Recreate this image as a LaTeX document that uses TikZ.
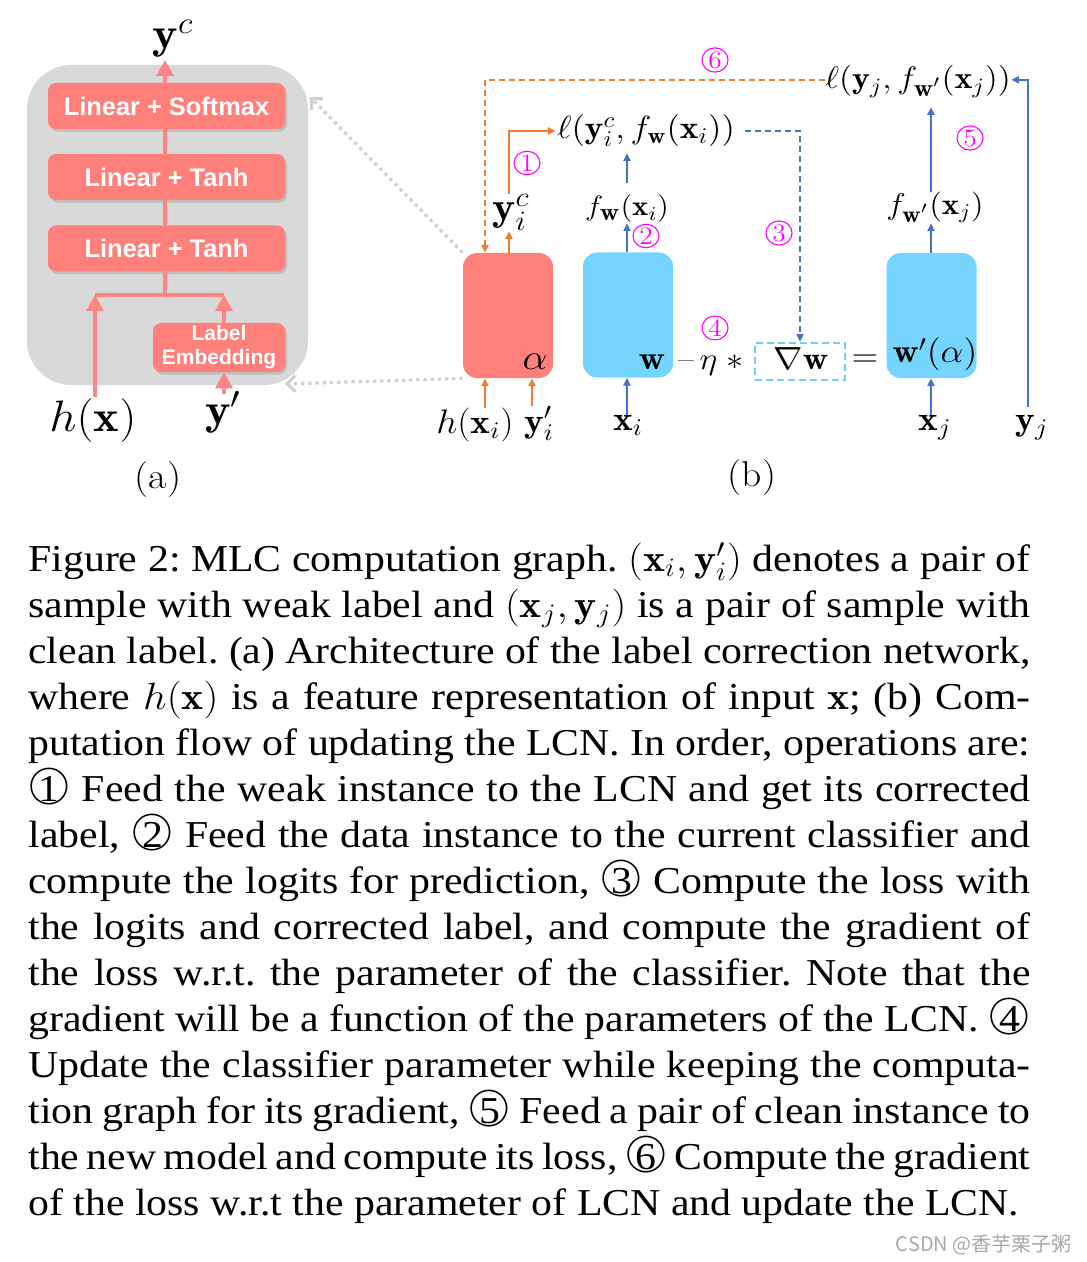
\documentclass[tikz,border=0pt]{standalone}
\usepackage{fix-cm}
\usepackage{fontspec}
\usepackage{graphicx}
\newfontfamily\capfont{Liberation Serif}
\newfontfamily\boxfont{Liberation Sans}
\newfontfamily\cjkfont{Noto Sans CJK SC}
\usetikzlibrary{arrows.meta,shadows,shapes.geometric}
\definecolor{salmon}{HTML}{FF7F7B}
\definecolor{lnred}{HTML}{FF8585}
\definecolor{bgray}{HTML}{D9D9D9}
\definecolor{skyb}{HTML}{76D5FF}
\definecolor{dashb}{HTML}{6CD0FF}
\definecolor{orng}{HTML}{ED7D31}
\definecolor{blu}{HTML}{4472C4}
\definecolor{mag}{HTML}{FF00FF}
\definecolor{dotg}{HTML}{D0D0D0}
\definecolor{wmgray}{HTML}{A8A8A8}
\newcommand\hs[1]{\scalebox{1.1}[1]{#1}}
\newcommand\cnum[1]{\ooalign{\hfil#1\hfil\crcr\raisebox{0.12em}{\resizebox*{1.0em}{0.93em}{$\bigcirc$}}}}
\newcommand\bigw{\scalebox{1.25}{$\scriptstyle\mathbf{w}$}}
\newcommand\bigwp{\scalebox{1.12}{$\scriptstyle\mathbf{w}'$}}
\tikzset{
  lab/.style={inner sep=0pt, anchor=base},
  abox/.style={fill=salmon, rounded corners=4pt, text=white,
    font=\boxfont\bfseries\fontsize{12.7}{14}\selectfont,
    drop shadow={opacity=0.3, shadow xshift=1pt, shadow yshift=-1.3pt},
    minimum width=118.5pt, minimum height=23pt, inner sep=0pt},
  rbox/.style={fill=salmon, rounded corners=7pt, minimum width=45pt,
    minimum height=62.5pt, inner sep=0pt},
  bbox/.style={rbox, fill=skyb},
  dbox/.style={draw=dashb, line width=1.3pt, dash pattern=on 3.5pt off 2pt,
    minimum width=45pt, minimum height=18.5pt, inner sep=0pt},
  oarr/.style={draw=orng, line width=0.85pt, -{Triangle[width=3.6pt,length=3.8pt]}},
  barr/.style={oarr, draw=blu},
  odash/.style={oarr, dash pattern=on 3pt off 2pt},
  bdash/.style={barr, dash pattern=on 3pt off 2pt},
  aline/.style={draw=lnred, line width=1.7pt},
  aarr/.style={aline, -{Triangle[width=8.5pt,length=8pt]}},
  gdot/.style={draw=dotg, line width=1.6pt, dotted, -{Straight Barb[length=4pt,width=8pt]}},
  mnum/.style={ellipse, draw=mag, line width=0.55pt, text=mag, inner sep=0pt,
    minimum width=13pt, minimum height=11.6pt, font=\fontsize{12.5}{14}\selectfont},
  capl/.style={anchor=base west, inner sep=0pt, font=\capfont\fontsize{19}{23}\selectfont\frenchspacing},
}
\begin{document}
\begin{tikzpicture}[x=0.5pt, y=-0.5pt]
\useasboundingbox (0,0) rectangle (1086,1262);

% ---------------- panel (a)
\node[fill=bgray, rounded corners=22pt, minimum width=140.5pt, minimum height=160pt, inner sep=0pt] (bg) at (167.5,225) {};
\node[abox] (sm) at (166.5,106) {Linear + Softmax};
\node[abox] (t1) at (166.5,177) {Linear + Tanh};
\node[abox] (t2) at (166.5,248.5) {Linear + Tanh};
\node[abox, minimum width=66pt, minimum height=24.5pt, align=center,
  font=\boxfont\bfseries\fontsize{10.5}{12}\selectfont] (le) at (219,347.5) {Label\\Embedding};

\node[lab, font=\fontsize{22}{26}\selectfont] (yc) at (173,49) {\hs{$\mathbf{y}^c$}};
\node[lab, font=\fontsize{22}{26}\selectfont] (hx) at (93,431) {\hs{$h(\mathbf{x})$}};
\node[lab, font=\fontsize{22}{26}\selectfont] (yp) at (223,424) {\hs{$\mathbf{y}'$}};
\node[lab, font=\fontsize{18}{22}\selectfont] (la) at (158,488) {\hs{(a)}};

\coordinate (jc) at (165,295);
\coordinate (jl) at (95,295);
\coordinate (jr) at (224,295);
\coordinate (hxtop) at (95,397);
\coordinate (yptop) at (224,394);
\coordinate (yctip) at (165,60);

\draw[aarr] (sm.north -| jc) -- (yctip);
\draw[aline] (sm.south -| jc) -- (t1.north -| jc);
\draw[aline] (t1.south -| jc) -- (t2.north -| jc);
\draw[aline] (t2.south -| jc) -- (jc);
\draw[aline] (jl) -- (jr);
\draw[aarr] (hxtop) -- (jl);
\draw[aarr] (le.north -| jr) -- (jr);
\draw[aarr] (yptop) -- (le.south -| jr);

% ---------------- panel (b)
\node[rbox] (R) at (508,315.5) {};
\node[bbox] (W) at (628,315) {};
\node[bbox] (Wp) at (931.5,315.5) {};
\node[dbox] (G) at (800,361.5) {};

\node[lab, font=\fontsize{18}{22}\selectfont] (al) at (535,370) {\hs{$\alpha$}};
\node[lab, font=\fontsize{16.5}{20}\selectfont] (w) at (652,370) {\hs{$\mathbf{w}$}};
\node[lab, font=\fontsize{15.5}{19}\selectfont] (eta) at (711,370) {\hs{--\,$\eta$\;$*$}};
\node[lab, font=\fontsize{16}{20}\selectfont] (gw) at (801,370) {\hs{$\nabla\mathbf{w}$}};
\node[lab, font=\fontsize{16}{20}\selectfont] (eq) at (865,366) {\hs{$=$}};
\node[lab, font=\fontsize{16.5}{20}\selectfont] (wpa) at (935,363) {\hs{$\mathbf{w}'(\alpha)$}};

\node[lab, font=\fontsize{17}{20}\selectfont] (hxi) at (475,433.5) {\hs{$h(\mathbf{x}_i)$}};
\node[lab, font=\fontsize{17}{20}\selectfont] (ypi) at (539,432) {\hs{$\mathbf{y}'_i$}};
\node[lab, font=\fontsize{17}{20}\selectfont] (xi) at (628,430) {\hs{$\mathbf{x}_i$}};
\node[lab, font=\fontsize{17}{20}\selectfont] (xj) at (935,430) {\hs{$\mathbf{x}_j$}};
\node[lab, font=\fontsize{17}{20}\selectfont] (yj) at (1032,430) {\hs{$\mathbf{y}_j$}};
\node[lab, font=\fontsize{20}{23}\selectfont] (yic) at (511,221) {\hs{$\mathbf{y}_i^c$}};
\node[lab, font=\fontsize{14}{17}\selectfont] (fwxi) at (627,216) {\hs{$f_{\bigw}(\mathbf{x}_i)$}};
\node[lab, font=\fontsize{15}{18}\selectfont] (fwpxj) at (935,214.5) {\hs{$f_{\bigwp}(\mathbf{x}_j)$}};
\node[lab, font=\fontsize{16}{19}\selectfont] (L1) at (646,139) {\hs{$\ell(\mathbf{y}_i^c, f_{\mathbf{w}}(\mathbf{x}_i))$}};
\node[lab, font=\fontsize{15.5}{18}\selectfont] (L2) at (918,89) {\hs{$\ell(\mathbf{y}_j, f_{\bigwp}(\mathbf{x}_j))$}};
\node[lab, font=\fontsize{18}{22}\selectfont] (lb) at (752,486) {\hs{(b)}};

\node[mnum] (c6) at (715,60) {\hs{6}};
\node[mnum] (c1) at (527,163) {\hs{1}};
\node[mnum] (c2) at (646,236) {\hs{2}};
\node[mnum] (c3) at (779,233) {\hs{3}};
\node[mnum] (c4) at (715,328) {\hs{4}};
\node[mnum] (c5) at (970,138) {\hs{5}};

\coordinate (xo1) at (485,0);
\coordinate (xo2) at (532,0);
\coordinate (xo3) at (509,0);
\coordinate (xb1) at (627,0);
\coordinate (xb2) at (931,0);
\coordinate (xyj) at (1028,0);

\draw[oarr] (hxi.north -| xo1) -- (R.south -| xo1);
\draw[oarr] (ypi.north -| xo2) -- (R.south -| xo2);
\draw[oarr] (R.north -| xo3) -- (yic.south -| xo3);
\draw[oarr, shorten >=0.5pt] (yic.north -| xo3) |- (L1.west);
\draw[barr] (xi.north -| xb1) -- (W.south -| xb1);
\draw[barr] (W.north -| xb1) -- (fwxi.south -| xb1);
\draw[barr, shorten <=6pt, shorten >=3pt] (fwxi.north -| xb1) -- (L1.south -| xb1);
\draw[bdash, shorten <=5pt] (L1.east) -| (G.north);
\draw[barr] (xj.north -| xb2) -- (Wp.south -| xb2);
\draw[barr] (Wp.north -| xb2) -- (fwpxj.south -| xb2);
\draw[barr, shorten >=4.5pt] (fwpxj.north -| xb2) -- (L2.south -| xb2);
\draw[barr, shorten <=4pt] (yj.north -| xyj) |- ([yshift=1pt]L2.east);
\draw[odash] ([yshift=1pt]L2.west) -| (R.north -| xo1);

\coordinate (ga1) at (310,97);
\coordinate (ga2) at (285,384);
\draw[gdot] (R.north west) -- (ga1);
\draw[gdot] (R.south west) -- (ga2);

% ---------------- caption
\node[capl] (l1) at (28,571) {\hs{\makebox[455.5pt][s]{Figure 2: MLC computation graph. $(\mathbf{x}_i, \mathbf{y}'_i)$ denotes a pair of}}};
\node[capl] (l2) at (28,617) {\hs{\makebox[455.5pt][s]{sample with weak label and $(\mathbf{x}_j, \mathbf{y}_j)$ is a pair of sample with}}};
\node[capl] (l3) at (28,663) {\hs{\makebox[455.5pt][s]{clean label. (a) Architecture of the label correction network,}}};
\node[capl] (l4) at (28,709) {\hs{\makebox[455.5pt][s]{where $h(\mathbf{x})$ is a feature representation of input $\mathbf{x}$; (b) Com-}}};
\node[capl] (l5) at (28,755) {\hs{\makebox[455.5pt][s]{putation flow of updating the LCN. In order, operations are:}}};
\node[capl] (l6) at (28,801) {\hs{\makebox[455.5pt][s]{\cnum{1} Feed the weak instance to the LCN and get its corrected}}};
\node[capl] (l7) at (28,847) {\hs{\makebox[455.5pt][s]{label, \cnum{2} Feed the data instance to the current classifier and}}};
\node[capl] (l8) at (28,893) {\hs{\makebox[455.5pt][s]{compute the logits for prediction, \cnum{3} Compute the loss with}}};
\node[capl] (l9) at (28,939) {\hs{\makebox[455.5pt][s]{the logits and corrected label, and compute the gradient of}}};
\node[capl] (l10) at (28,985) {\hs{\makebox[455.5pt][s]{the loss w.r.t. the parameter of the classifier. Note that the}}};
\node[capl] (l11) at (28,1031) {\hs{\makebox[455.5pt][s]{gradient will be a function of the parameters of the LCN. \cnum{4}}}};
\node[capl] (l12) at (28,1077) {\hs{\makebox[455.5pt][s]{Update the classifier parameter while keeping the computa-}}};
\node[capl] (l13) at (28,1123) {\hs{\makebox[455.5pt][s]{tion graph for its gradient, \cnum{5} Feed a pair of clean instance to}}};
\node[capl] (l14) at (28,1169) {\hs{\makebox[455.5pt][s]{the new model and compute its loss, \cnum{6} Compute the gradient}}};
\node[capl] (l15) at (28,1215) {\hs{of the loss w.r.t the parameter of LCN and update the LCN.}};

\node[anchor=base east, inner sep=0pt, text=wmgray, font=\cjkfont\fontsize{10}{12}\selectfont] (wm) at (1072,1251) {CSDN @香芋栗子粥};
\end{tikzpicture}
\end{document}
